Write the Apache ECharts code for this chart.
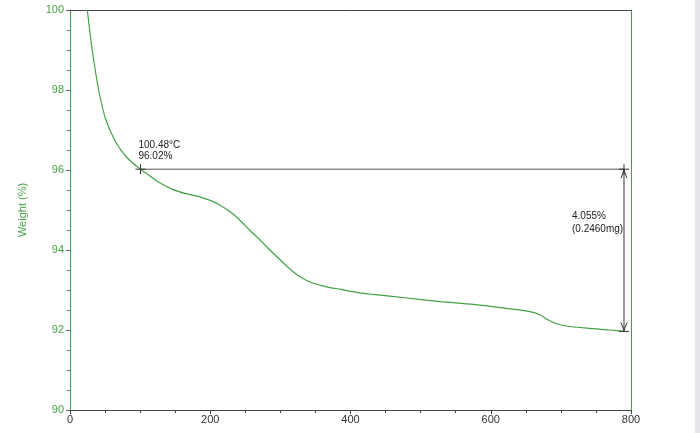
<!DOCTYPE html>
<html><head><meta charset="utf-8">
<script src="https://cdn.jsdelivr.net/npm/echarts@6/dist/echarts.min.js"></script>
<style>html,body{margin:0;padding:0;background:#fff}#c{width:700px;height:433px}</style>
</head><body><div id="c"></div>
<script>
// Data
const temperature = [24.7, 29, 34.2, 41.4, 50.9, 65.2, 81.7, 100.48, 115, 128, 147, 165, 185, 200, 214, 228, 242, 256, 271, 285, 300, 314, 328, 345, 366, 385, 413, 432, 480, 528, 575, 623, 656, 670, 680, 692, 708, 741, 770, 790];
const weight = [100, 99.35, 98.7, 97.95, 97.27, 96.7, 96.3, 96.02, 95.84, 95.68, 95.51, 95.41, 95.33, 95.24, 95.12, 94.96, 94.75, 94.5, 94.25, 94.0, 93.75, 93.52, 93.33, 93.18, 93.08, 93.02, 92.93, 92.89, 92.8, 92.71, 92.64, 92.54, 92.46, 92.38, 92.27, 92.17, 92.1, 92.04, 92.0, 91.965];
const xTicks = [0, 200, 400, 600, 800];
const yTicks = [90, 92, 94, 96, 98, 100];
const markPoint = [100.48, 96.02];
const endPoint = [790, 96.02];
const stepBottom = [790, 91.965];
const markLabel = ['100.48°C', '96.02%'];
const stepLabel = ['4.055%', '(0.2460mg)'];

const green = '#45a045';
const curveGreen = '#45a045';
const dark = '#444';
const font = 'Liberation Sans, Arial, sans-serif';

const chart = echarts.init(document.getElementById('c'), null, {renderer: 'canvas'});
chart.setOption({
  animation: false,
  backgroundColor: '#fff',
  grid: {left: 70, right: 69, top: 10, bottom: 23, containLabel: false},
  xAxis: [{
    type: 'value', min: xTicks[0], max: xTicks[xTicks.length-1], interval: 200,
    axisLine: {show: true, onZero: false, lineStyle: {color: dark, width: 1}},
    axisTick: {show: true, length: 4, lineStyle: {color: dark}},
    minorTick: {show: true, splitNumber: 4, length: 3, lineStyle: {color: dark}},
    splitLine: {show: false},
    axisLabel: {color: '#333', fontSize: 11, fontFamily: font, margin: 4}
  }, {
    type: 'value', position: 'top', min: 0, max: 800,
    axisLine: {show: true, onZero: false, lineStyle: {color: dark, width: 1}},
    axisTick: {show: false}, axisLabel: {show: false}, splitLine: {show: false}
  }],
  yAxis: [{
    type: 'value', min: yTicks[0], max: yTicks[yTicks.length-1], interval: 2,
    name: 'Weight (%)', nameLocation: 'middle', nameGap: 42,
    nameTextStyle: {color: green, fontSize: 11, fontFamily: font},
    axisLine: {show: true, onZero: false, lineStyle: {color: green, width: 1}},
    axisTick: {show: true, length: 4, lineStyle: {color: '#666'}},
    minorTick: {show: true, splitNumber: 4, length: 3, lineStyle: {color: '#777'}},
    splitLine: {show: false},
    axisLabel: {color: green, fontSize: 11, fontFamily: font, margin: 6}
  }, {
    type: 'value', position: 'right', min: 90, max: 100,
    axisLine: {show: true, onZero: false, lineStyle: {color: green, width: 1}},
    axisTick: {show: false}, axisLabel: {show: false}, splitLine: {show: false}
  }],
  series: [{
    type: 'line', data: temperature.map((t, i) => [t, weight[i]]),
    smooth: 0.25, showSymbol: false, clip: true,
    lineStyle: {color: curveGreen, width: 1.2}
  }, {
    type: 'custom', data: [[markPoint[0], markPoint[1], endPoint[0], endPoint[1], stepBottom[0], stepBottom[1]]],
    renderItem: function (params, api) {
      const a = api.coord([api.value(0), api.value(1)]);
      const b = api.coord([api.value(2), api.value(3)]);
      const c = api.coord([api.value(4), api.value(5)]);
      const ls = {stroke: '#333', lineWidth: 1};
      const cross = (p, s) => [
        {type: 'line', shape: {x1: p[0]-s, y1: p[1], x2: p[0]+s, y2: p[1]}, style: ls},
        {type: 'line', shape: {x1: p[0], y1: p[1]-s, x2: p[0], y2: p[1]+s}, style: ls}
      ];
      const children = [
        {type: 'line', shape: {x1: a[0], y1: a[1], x2: b[0], y2: b[1]}, style: {stroke: '#555', lineWidth: 1}},
        ...cross(a, 5), ...cross(b, 5),
        {type: 'line', shape: {x1: b[0], y1: b[1], x2: c[0], y2: c[1]}, style: ls},
        {type: 'polyline', shape: {points: [[b[0]-3, b[1]+9], [b[0], b[1]+1], [b[0]+3, b[1]+9]]}, style: {stroke: '#333', fill: null, lineWidth: 1}},
        {type: 'polyline', shape: {points: [[c[0]-3, c[1]-9], [c[0], c[1]-1], [c[0]+3, c[1]-9]]}, style: {stroke: '#333', fill: null, lineWidth: 1}},
        {type: 'line', shape: {x1: c[0]-5, y1: c[1], x2: c[0]+5, y2: c[1]}, style: ls},
        {type: 'text', x: a[0]-2, y: a[1]-29, style: {text: markLabel.join('\n'), fill: '#222', font: '10px ' + font, lineHeight: 11, textAlign: 'left', textVerticalAlign: 'top'}},
        {type: 'text', x: b[0]-52, y: b[1]+41, style: {text: stepLabel.join('\n'), fill: '#222', font: '10px ' + font, lineHeight: 13, textAlign: 'left', textVerticalAlign: 'top'}}
      ];
      return {type: 'group', children: children};
    },
    z: 5
  }],
  graphic: [{type: 'rect', left: 695, top: 0, shape: {width: 5, height: 433}, style: {fill: '#e6e6ea'}, silent: true}]
});
</script></body></html>
